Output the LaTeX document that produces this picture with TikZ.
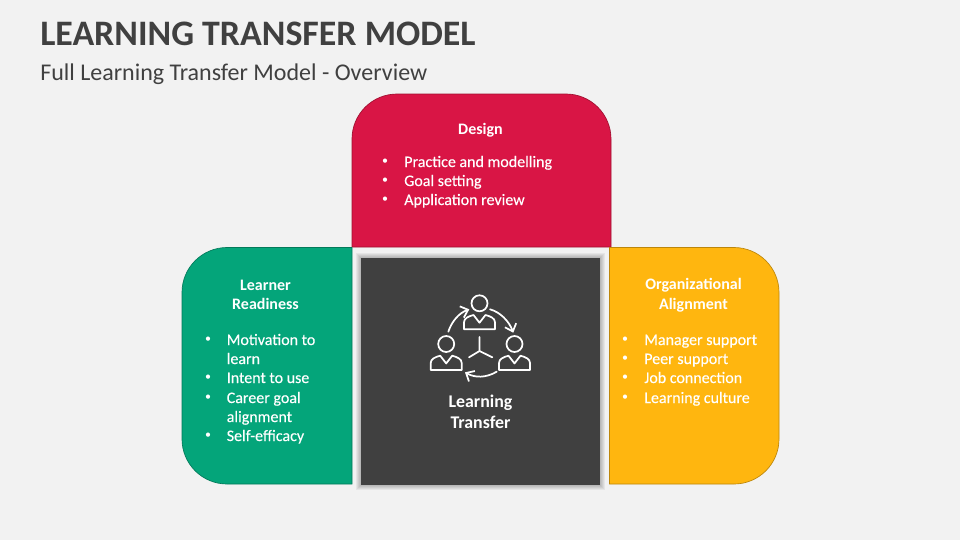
\documentclass[tikz,border=0pt]{standalone}
\usepackage{fontspec}
\setmainfont{Carlito}
\newfontfamily\bodyfont[FakeBold=0.2]{Carlito}
\usetikzlibrary{arrows.meta}
\definecolor{bgc}{HTML}{F2F2F2}
\definecolor{inkc}{HTML}{404040}
\definecolor{redc}{HTML}{D91545}
\definecolor{redl}{HTML}{A01030}
\definecolor{greenc}{HTML}{04A57A}
\definecolor{greenl}{HTML}{037A5A}
\definecolor{amberc}{HTML}{FFB60F}
\definecolor{amberl}{HTML}{BC860B}
\definecolor{darkc}{HTML}{404040}
\tikzset{
  px/.style={x=0.75pt,y=-0.75pt},
  panel/.style={line width=0.5pt},
  headtext/.style={text=white,font=\fontsize{12pt}{14.4pt}\selectfont\bfseries,align=center,inner sep=0pt},
  bodytext/.style={text=white,font=\bodyfont\fontsize{12pt}{14.4pt}\selectfont,align=left,inner sep=0pt,anchor=base west},
  bulletdot/.style={text=white,font=\fontsize{9pt}{14.4pt}\selectfont,inner sep=0pt,anchor=center},
  icon/.style={draw=white,line width=1.3pt,line cap=round,line join=round},
  iconarrow/.style={icon,-{Straight Barb[length=5pt,width=9pt]}},
}
\newcommand{\person}[2]{%
  \begin{scope}[shift={(#1,#2)}]
  \draw[icon] (0,-10) circle[radius=8];
  \draw[icon] (-15.5,16) -- (15.5,16) -- (15.5,9) .. controls (15.5,5) and (11,3) .. (6,1.7) -- (0,9.4) -- (-6,1.7) .. controls (-11,3) and (-15.5,5) .. (-15.5,9) -- cycle;
  \end{scope}}
\begin{document}
\begin{tikzpicture}[px]
\useasboundingbox (0,0) rectangle (960,540);
\fill[bgc] (0,0) rectangle (960,540);
% panels
\draw[panel,draw=redl,fill=redc] (352,247) -- (352,139) arc[start angle=180,end angle=270,radius=45] -- (566,94) arc[start angle=270,end angle=360,radius=45] -- (611,247) -- cycle;
\draw[panel,draw=greenl,fill=greenc] (352,247.5) -- (227,247.5) arc[start angle=270,end angle=180,radius=45] -- (182,439) arc[start angle=180,end angle=90,radius=45] -- (352,484) -- cycle;
\draw[panel,draw=amberl,fill=amberc] (609.5,247.5) -- (734,247.5) arc[start angle=270,end angle=360,radius=45] -- (779,439) arc[start angle=0,end angle=90,radius=45] -- (609.5,484) -- cycle;
% centre with soft shadow
\foreach \g in {5,4,3,2,1}{\fill[black,opacity=0.05] (361-\g,258-\g) rectangle (600+\g,485+\g);}
\fill[darkc] (361,258) rectangle (600,485);
% titles
\node[anchor=base west,inner sep=0pt,text=inkc,font=\fontsize{26.9pt}{30pt}\selectfont\bfseries] (title) at (40,45) {LEARNING TRANSFER MODEL};
\node[anchor=base west,inner sep=0pt,text=inkc,font=\fontsize{18pt}{21pt}\selectfont] (subtitle) at (40,80.5) {Full Learning Transfer Model - Overview};
% heads
\node[headtext] (design) at (480.5,130) {Design};
\node[headtext] (learner) at (265.5,294.5) {Learner\\Readiness};
\node[headtext] (org) at (693.5,295.2) {Organizational\\Alignment};
\node[headtext,font=\fontsize{13.4pt}{15.4pt}\selectfont\bfseries] (centre) at (480.5,412) {Learning\\Transfer};
% lists
\foreach \n/\txt/\yy in {a/Practice and modelling/167,b/Goal setting/186,c/Application review/205}{
  \node[bodytext] (d\n) at (404,\yy) {\txt};
  \node[bulletdot] (db\n) at (385,\yy-5.5) {•};
}
\foreach \n/\txt/\yy in {a/Motivation to/345,b/learn/364,c/Intent to use/383,d/Career goal/403,e/alignment/422,f/Self-efficacy/441}{
  \node[bodytext] (l\n) at (226.5,\yy) {\txt};
}
\foreach \n/\yy in {a/345,c/383,d/403,f/441}{\node[bulletdot] (lb\n) at (208,\yy-5.5) {•};}
\foreach \n/\txt/\yy in {a/Manager support/345,b/Peer support/364,c/Job connection/383,d/Learning culture/403}{
  \node[bodytext] (o\n) at (644,\yy) {\txt};
  \node[bulletdot] (ob\n) at (625,\yy-5.5) {•};
}
% icon
\person{479.5}{313.3}
\person{446.2}{354}
\person{514.5}{354}
\coordinate (hub) at (479.5,351);
\coordinate (hubt) at (479.5,337);
\coordinate (hubl) at (469,357.3);
\coordinate (hubr) at (492.3,357.3);
\draw[icon] (hub) -- (hubt) (hub) -- (hubl) (hub) -- (hubr);
\coordinate (a1s) at (448.3,331.7);
\coordinate (a1e) at (469.3,309.3);
\coordinate (a2s) at (490,309.3);
\coordinate (a2e) at (513.3,332.7);
\coordinate (a3s) at (496.7,371.7);
\coordinate (a3e) at (465,372.3);
\draw[iconarrow] (a1s) .. controls (452,321) and (459,313) .. (a1e);
\draw[iconarrow] (a2s) .. controls (500,312) and (509,321) .. (a2e);
\draw[iconarrow] (a3s) .. controls (486,378) and (475,378) .. (a3e);
\end{tikzpicture}
\end{document}
